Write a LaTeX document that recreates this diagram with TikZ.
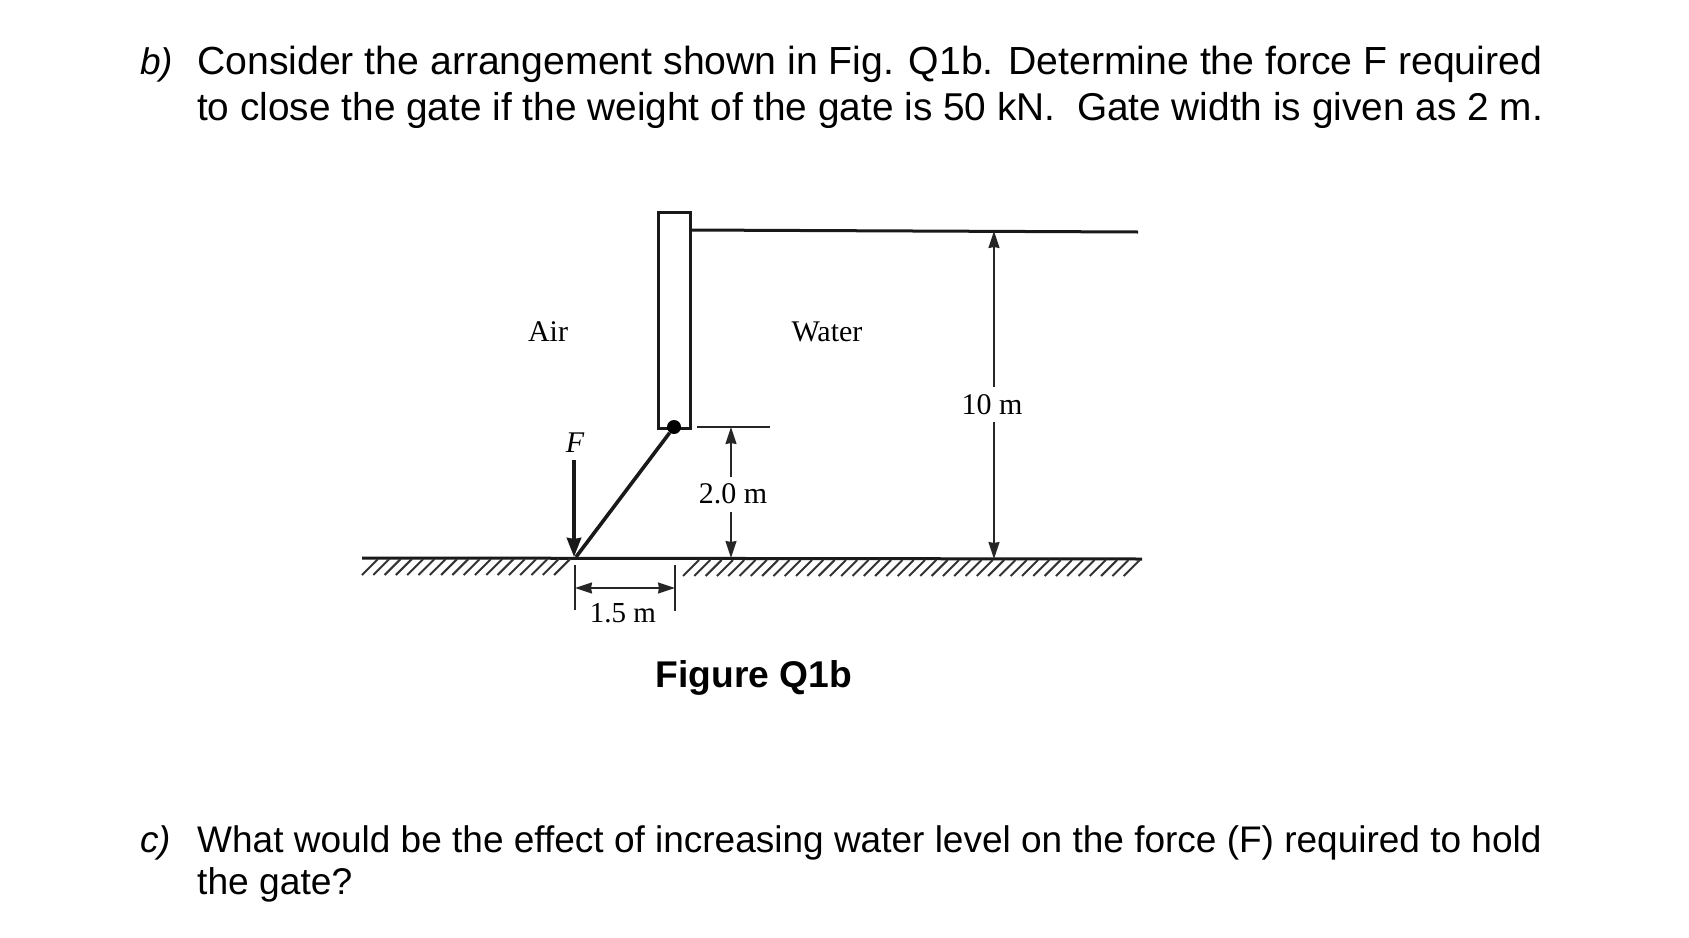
\documentclass[tikz,border=0pt]{standalone}
\usepackage{fontspec}
\setmainfont{Liberation Sans}
\newfontfamily\figfont{Liberation Serif}
\usetikzlibrary{arrows.meta}
\tikzset{
 para/.style={anchor=base west,inner sep=0pt},
 figlbl/.style={inner sep=1pt,font=\figfont\fontsize{30}{32}\selectfont},
 thin line/.style={line width=2pt,black!85},
 wall/.style={line width=3pt,black!90},
 dimhead/.tip={Stealth[length=17pt,width=11pt,inset=1pt]},
 dim/.style={line width=1.8pt,black!85,-dimhead},
 hatchline/.style={line width=2pt,black!80}
}
\begin{document}
\begin{tikzpicture}[x=1pt,y=-1pt]
\useasboundingbox (0,0) rectangle (1689,937);
\node[para,font=\fontsize{37}{40}\selectfont] (q1) at (140,74) {\textit{b)}};
\node[para,font=\fontsize{39.2}{40}\selectfont] (t1) at (197,74.5) {Consider the arrangement shown in Fig. Q1b. Determine the force F required};
\node[para,font=\fontsize{38.8}{40}\selectfont] (t2) at (197,120) {to close the gate if the weight of the gate is 50 kN.\ \ Gate width is given as 2 m.};
\node[para,font=\fontsize{37}{40}\selectfont] (q2) at (140,852) {\textit{c)}};
\node[para,font=\fontsize{37}{40}\selectfont] (t3) at (197,852) {What would be the effect of increasing water level on the force (F) required to hold};
\node[para,font=\fontsize{37.2}{40}\selectfont] (t4) at (197,894) {the gate?};
% gate
\node[draw,wall,minimum width=32pt,minimum height=216pt,inner sep=0pt,anchor=north west] (gate) at (656.5,210.5) {};
\coordinate (wl) at (689,230);
\coordinate (wr) at (1138,232);
\draw[wall] (wl) -- (wr);
% ground
\coordinate (gl) at (362,558);
\coordinate (gr) at (1142,559);
\draw[line width=3pt,black!90] (gl) -- (gr);
\foreach \x in {362,373.3,...,555} \draw[hatchline] (\x+16,559) -- (\x,575);
\foreach \x in {683,694.3,...,1126} \draw[hatchline] (\x+16,560) -- (\x,576);
% hinge
\node[circle,fill=black,inner sep=0pt,minimum size=14pt] (hinge) at (674,427) {};
\coordinate (foot) at (576,557);
\draw[line width=3.6pt,black!90] (hinge) -- (foot);
% force
\node[figlbl,font=\figfont\itshape\fontsize{30}{32}\selectfont] (F) at (575,443) {F};
\coordinate (fa) at (574,460);
\coordinate (fb) at (574,557);
\draw[line width=4pt,black!90,-{Stealth[length=19pt,width=14pt,inset=1pt]}] (fa) -- (fb);
% labels
\node[figlbl] (air) at (548,332) {Air};
\node[figlbl] (water) at (827,332) {Water};
% 10 m
\node[figlbl] (ten) at (992,405) {10 m};
\coordinate (t1a) at (994,387);
\coordinate (t1b) at (994,231);
\coordinate (t2a) at (994,422);
\coordinate (t2b) at (994,559);
\draw[dim] (t1a) -- (t1b);
\draw[dim] (t2a) -- (t2b);
% 2.0 m
\coordinate (la) at (697,427);
\coordinate (lb) at (770,427);
\draw[thin line,line width=2.4pt] (la) -- (lb);
\node[figlbl] (two) at (733,494) {2.0 m};
\coordinate (u1) at (731,477);
\coordinate (u2) at (731,427);
\coordinate (d1) at (731,512);
\coordinate (d2) at (731,558);
\draw[dim] (u1) -- (u2);
\draw[dim] (d1) -- (d2);
% 1.5 m
\coordinate (k1a) at (575,565);
\coordinate (k1b) at (575,610);
\coordinate (k2a) at (675,565);
\coordinate (k2b) at (675,611);
\draw[thin line] (k1a) -- (k1b);
\draw[thin line] (k2a) -- (k2b);
\coordinate (hl) at (575,588);
\coordinate (hr) at (675,588);
\draw[line width=1.8pt,black!85,dimhead-dimhead] (hl) -- (hr);
\node[figlbl,font=\figfont\fontsize{29}{32}\selectfont] (one) at (623,613) {1.5 m};
\node[inner sep=0pt,font=\bfseries\fontsize{37.2}{40}\selectfont] (cap) at (754,678) {Figure Q1b};
\end{tikzpicture}
\end{document}
